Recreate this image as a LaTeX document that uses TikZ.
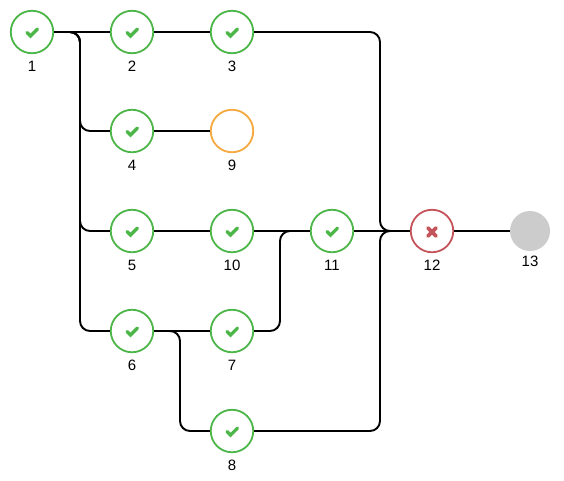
\documentclass[tikz,border=0pt]{standalone}
\usepackage{fontspec}
\setmainfont{Liberation Sans}
\definecolor{okgreen}{HTML}{4CB648}
\definecolor{warnorange}{HTML}{F5A93F}
\definecolor{failred}{HTML}{C4545A}
\definecolor{idlegray}{HTML}{CCCCCC}
\tikzset{
  wire/.style={line width=1.9pt,black,rounded corners=10pt},
  stepcircle/.style={circle,draw,line width=1.8pt,fill=white,minimum size=42.5pt,inner sep=0pt},
  okstep/.style={stepcircle,draw=okgreen},
  warnstep/.style={stepcircle,draw=warnorange},
  failstep/.style={stepcircle,draw=failred},
  idlestep/.style={circle,fill=idlegray,minimum size=40pt,inner sep=0pt},
  steplabel/.style={font=\fontsize{15}{17}\selectfont,inner sep=0pt,anchor=center},
  tick/.style={draw=okgreen,line width=3.2pt,line cap=round,line join=miter},
  cross/.style={draw=failred,line width=3.6pt,line cap=round},
}
\newcommand{\tickin}[1]{\draw[tick] ([shift={(-5,0.5)}]#1.center) -- ([shift={(-1.5,4)}]#1.center) -- ([shift={(5.5,-3)}]#1.center);}
\newcommand{\crossin}[1]{\draw[cross] ([shift={(-4,-3)}]#1.center) -- ([shift={(4,5)}]#1.center) ([shift={(-4,5)}]#1.center) -- ([shift={(4,-3)}]#1.center);}
\begin{document}
\begin{tikzpicture}[x=1pt,y=-1pt]
\useasboundingbox (0,0) rectangle (564,480);
% bus coordinates
\coordinate (bus4) at (80,131);
\coordinate (bus5) at (80,231);
\coordinate (bus6) at (80,331);
\coordinate (bus8) at (180,431);
\coordinate (busin) at (280,231);
\coordinate (join) at (380,231);
% nodes
\node[okstep] (n1) at (32,32) {};
\node[okstep] (n2) at (132,32) {};
\node[okstep] (n3) at (232,32) {};
\node[okstep] (n4) at (132,131) {};
\node[warnstep] (n9) at (232,131) {};
\node[okstep] (n5) at (132,231) {};
\node[okstep] (n10) at (232,231) {};
\node[okstep] (n11) at (332,231) {};
\node[failstep] (n12) at (432,231) {};
\node[idlestep] (n13) at (530,231) {};
\node[okstep] (n6) at (132,331) {};
\node[okstep] (n7) at (232,331) {};
\node[okstep] (n8) at (232,431) {};
% connectors
\draw[wire] (n1.east) -- (n2.west);
\draw[wire] (n2.east) -- (n3.west);
\draw[wire] (n1.east) -| (bus4) -- (n4.west);
\draw[wire] (n1.east) -| (bus5) -- (n5.west);
\draw[wire] (n1.east) -| (bus6) -- (n6.west);
\draw[wire] (n4.east) -- (n9.west);
\draw[wire] (n5.east) -- (n10.west);
\draw[wire] (n10.east) -- (n11.west);
\draw[wire] (n6.east) -- (n7.west);
\draw[wire] (n6.east) -| (bus8) -- (n8.west);
\draw[wire] (n7.east) -| (busin) -- (n11.west);
\draw[wire] (n3.east) -| (join) -- (n12.west);
\draw[wire] (n8.east) -| (join) -- (n12.west);
\draw[wire] (n11.east) -- (n12.west);
\draw[wire] (n12.east) -- (n13.west);
% marks
\tickin{n1}\tickin{n2}\tickin{n3}\tickin{n4}\tickin{n5}\tickin{n10}\tickin{n11}\tickin{n6}\tickin{n7}\tickin{n8}
\crossin{n12}
% labels
\node[steplabel] (l1) at (32,66.5) {1};
\node[steplabel] (l2) at (132,66.5) {2};
\node[steplabel] (l3) at (232,66.5) {3};
\node[steplabel] (l4) at (132,165.5) {4};
\node[steplabel] (l9) at (232,165.5) {9};
\node[steplabel] (l5) at (132,265.5) {5};
\node[steplabel] (l10) at (232,265.5) {10};
\node[steplabel] (l11) at (332,265.5) {11};
\node[steplabel] (l12) at (432,265.5) {12};
\node[steplabel] (l13) at (530,261.5) {13};
\node[steplabel] (l6) at (132,365.5) {6};
\node[steplabel] (l7) at (232,365.5) {7};
\node[steplabel] (l8) at (232,465.5) {8};
\end{tikzpicture}
\end{document}
